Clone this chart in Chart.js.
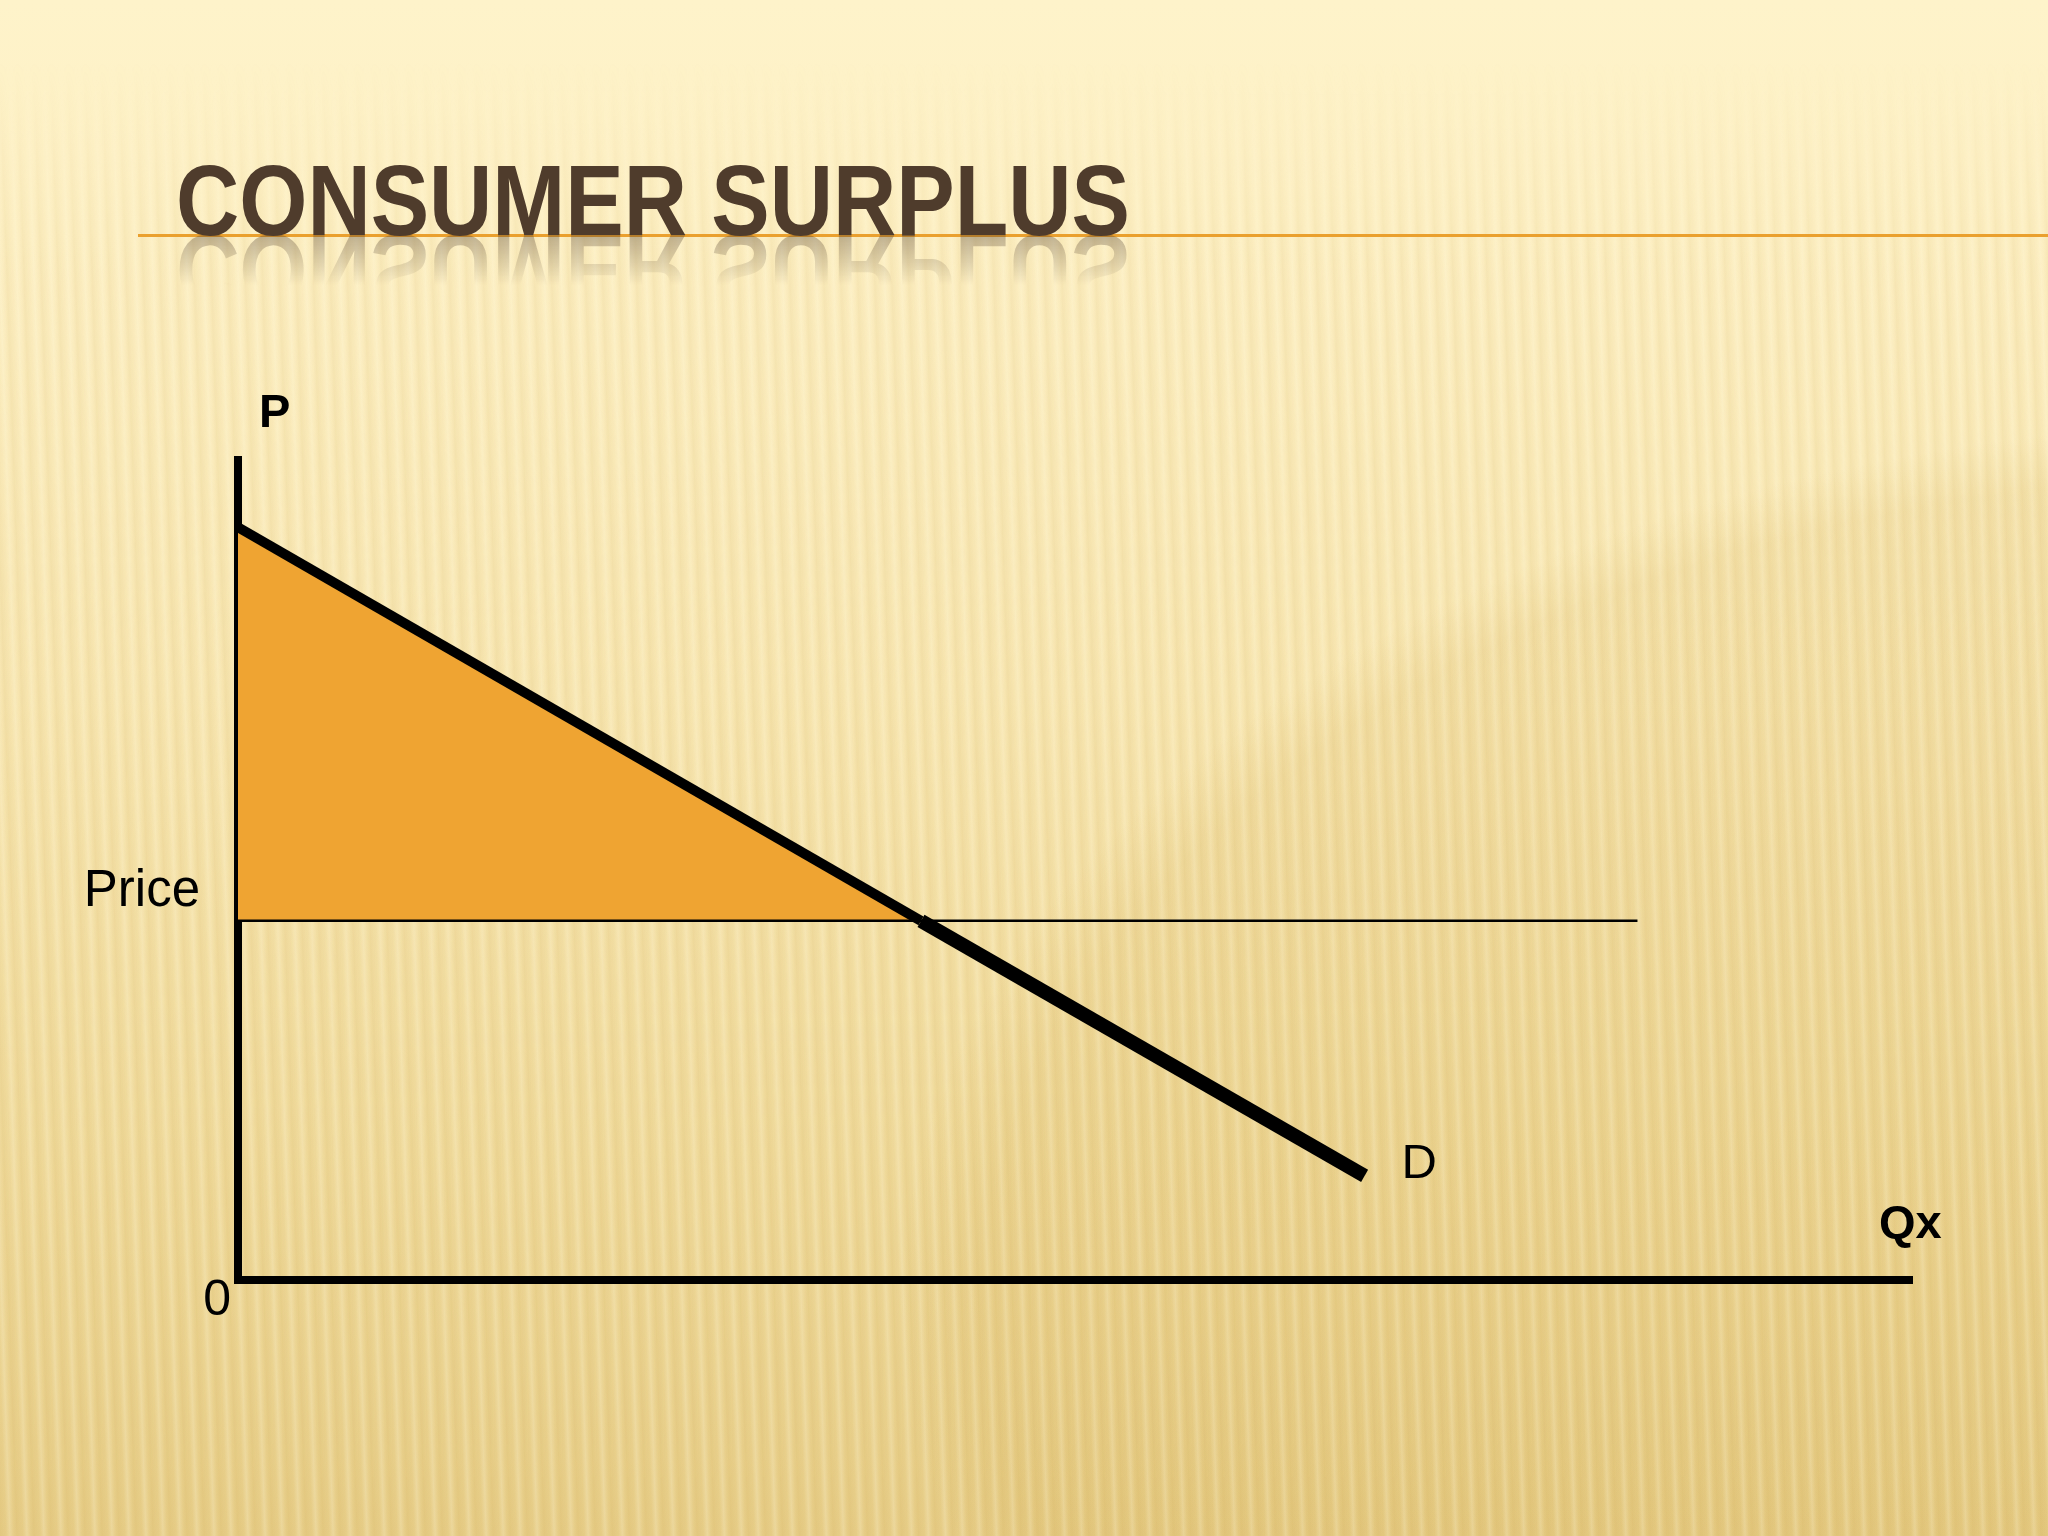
<!DOCTYPE html>
<html>
<head>
<meta charset="utf-8">
<script src="https://cdn.jsdelivr.net/npm/chart.js@4"></script>
<style>
    html, body {
        margin: 0;
        padding: 0;
        width: 2048px;
        height: 1536px;
        overflow: hidden;
    }
    body {
        position: relative;
        background: linear-gradient(to bottom, #fef3ca 0%, #fdf0c4 15%, #f9e8b4 45%, #f1dc9e 75%, #e8cf8a 100%);
        font-family: "Liberation Sans", Arial, sans-serif;
    }
    #blob {
        position: absolute;
        left: 0; top: 0; width: 2048px; height: 1536px;
        background: radial-gradient(ellipse 1400px 880px at 2300px 1300px, rgba(205,165,70,0.12) 0%, rgba(205,165,70,0.12) 94%, rgba(205,165,70,0) 100%);
    }
    #stripes {
        position: absolute;
        left: 0; top: 0; width: 2048px; height: 1536px;
        background: repeating-linear-gradient(88deg,
            rgba(200,160,70,0.16) 0px, rgba(200,160,70,0.05) 6px,
            rgba(255,252,235,0.18) 10px, rgba(200,160,70,0.05) 14px,
            rgba(200,160,70,0.16) 17px);
        -webkit-mask-image: linear-gradient(to bottom, transparent 60px, rgba(0,0,0,0.7) 260px, #000 100%);
        mask-image: linear-gradient(to bottom, transparent 60px, rgba(0,0,0,0.7) 260px, #000 100%);
    }
    #rule {
        position: absolute;
        left: 138px; top: 234px;
        width: 1910px; height: 3px;
        background: #eaa02e;
    }
    #title {
        position: absolute;
        left: 176px; top: 150px;
        font-size: 100px;
        line-height: 100px;
        font-weight: bold;
        color: #4f3c2c;
        white-space: nowrap;
        transform: scaleX(0.876);
        transform-origin: left top;
        -webkit-box-reflect: below -30px linear-gradient(to bottom, transparent 0%, transparent 35%, rgba(0,0,0,0.45) 100%);
    }
    #chart {
        position: absolute;
        left: 0; top: 0;
    }
</style>
</head>
<body>
<div id="blob"></div>
<div id="stripes"></div>
<div id="rule"></div>
<div id="title">CONSUMER SURPLUS</div>
<canvas id="chart" width="2048" height="1536"></canvas>
<script>
// Ejes (unidades arbitrarias)
const qMax = 100;
const pMax = 100;

// Curva de demanda: cantidades y precios
const demandQty = [0, 40.8, 67.3];
const demandPrice = [91.8, 43.8, 12.7];

// Precio de mercado y su linea horizontal
const marketPrice = 43.8;
const priceLineQty = [0, 83.6];

// Etiquetas
const axisLabels = { price: 'Price', origin: '0', pAxis: 'P', qAxis: 'Qx', demand: 'D' };

function pts(xs, ys) {
    return xs.map((x, i) => ({ x: x, y: ys[i] }));
}

// Plugin para los textos de los ejes
const labelsPlugin = {
    id: 'labels',
    afterDraw(chart) {
        const ctx = chart.ctx;
        const xs = chart.scales.x;
        const ys = chart.scales.y;
        const x0 = xs.getPixelForValue(0);
        const y0 = ys.getPixelForValue(0);
        const yTop = ys.getPixelForValue(pMax);
        const xEnd = xs.getPixelForValue(qMax);
        const yPrice = ys.getPixelForValue(marketPrice);
        const last = demandQty.length - 1;
        const dX = xs.getPixelForValue(demandQty[last]);
        const dY = ys.getPixelForValue(demandPrice[last]);

        ctx.save();
        ctx.fillStyle = '#000';
        ctx.textBaseline = 'alphabetic';

        ctx.font = '51px "Liberation Sans", Arial, sans-serif';
        ctx.textAlign = 'right';
        ctx.fillText(axisLabels.price, x0 - 38, yPrice - 15);
        ctx.font = '50px "Liberation Sans", Arial, sans-serif';
        ctx.fillText(axisLabels.origin, x0 - 7, y0 + 35);

        ctx.textAlign = 'left';
        ctx.font = '49px "Liberation Sans", Arial, sans-serif';
        ctx.fillText(axisLabels.demand, dX + 37, dY + 2);

        ctx.font = 'bold 47px "Liberation Sans", Arial, sans-serif';
        ctx.fillText(axisLabels.pAxis, x0 + 21, yTop - 33);
        ctx.fillText(axisLabels.qAxis, xEnd - 33, y0 - 42);
        ctx.restore();
    }
};

function renderChart() {
    const ctx = document.getElementById('chart').getContext('2d');
    new Chart(ctx, {
        type: 'line',
        data: {
            datasets: [
                {
                    // tramo superior de la demanda
                    data: pts(demandQty.slice(0, 2), demandPrice.slice(0, 2)),
                    borderColor: '#000',
                    borderWidth: 10,
                    fill: false
                },
                {
                    // tramo inferior, mas grueso
                    data: pts(demandQty.slice(1), demandPrice.slice(1)),
                    borderColor: '#000',
                    borderWidth: 14,
                    fill: false
                },
                {
                    // linea de precio
                    data: pts(priceLineQty, [marketPrice, marketPrice]),
                    borderColor: '#000',
                    borderWidth: 2.5,
                    fill: false
                },
                {
                    // excedente del consumidor
                    data: pts(demandQty.slice(0, 2), demandPrice.slice(0, 2)),
                    borderWidth: 0,
                    borderColor: 'rgba(0,0,0,0)',
                    backgroundColor: '#efa432',
                    fill: { value: marketPrice }
                }
            ]
        },
        options: {
            responsive: false,
            devicePixelRatio: 1,
            animation: false,
            layout: {
                padding: { left: 238, right: 136, top: 460, bottom: 256 }
            },
            elements: {
                point: { radius: 0, hoverRadius: 0 },
                line: { tension: 0, borderCapStyle: 'butt' }
            },
            datasets: {
                line: { clip: false }
            },
            scales: {
                x: {
                    type: 'linear',
                    min: 0,
                    max: qMax,
                    grid: { display: false, drawTicks: false },
                    ticks: { display: false },
                    border: { display: true, color: '#000', width: 8 },
                    afterFit(scale) { scale.height = 0; }
                },
                y: {
                    type: 'linear',
                    min: 0,
                    max: pMax,
                    grid: { display: false, drawTicks: false },
                    ticks: { display: false },
                    border: { display: true, color: '#000', width: 8 },
                    afterFit(scale) { scale.width = 0; }
                }
            },
            plugins: {
                legend: { display: false },
                tooltip: { enabled: false }
            }
        },
        plugins: [labelsPlugin]
    });
}

window.onload = renderChart;
</script>
</body>
</html>
